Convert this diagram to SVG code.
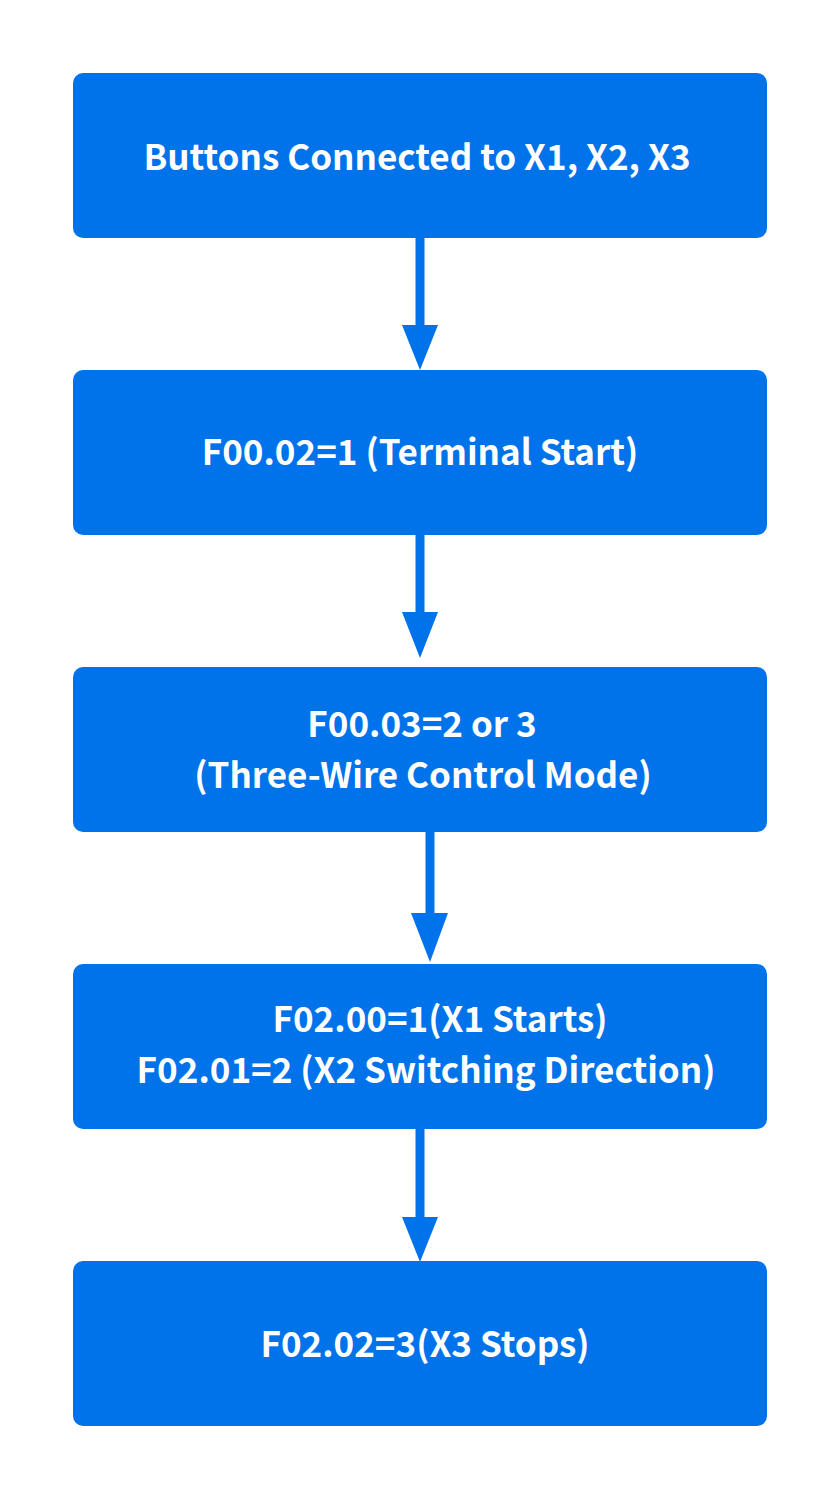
<svg xmlns="http://www.w3.org/2000/svg" width="840" height="1500" viewBox="0 0 840 1500">
<style>
.box{fill:#0073EA}
.t{font-family:"Noto Sans CJK SC","Noto Sans",sans-serif;font-weight:700;font-size:35px;fill:#fff;text-anchor:middle}
.ar{fill:#0073EA}
</style>
<rect width="840" height="1500" fill="#fff"/>
<g id="connectors">
<g class="ar"><rect x="415.5" y="238" width="9" height="90"/><polygon points="402,325 438,325 420,370"/></g>
<g class="ar"><rect x="415.5" y="535" width="9" height="80"/><polygon points="402,612 438,612 420,658"/></g>
<g class="ar"><rect x="425.5" y="832" width="9" height="84"/><polygon points="411,913 448,913 430,962"/></g>
<g class="ar"><rect x="415.5" y="1129" width="9" height="91"/><polygon points="402,1217 438,1217 420,1262"/></g>
</g>
<g id="n1"><rect class="box" x="73" y="73" width="694" height="165" rx="10"/><text class="t" x="417" y="170">Buttons Connected to X1, X2, X3</text></g>
<g id="n2"><rect class="box" x="73" y="370" width="694" height="165" rx="10"/><text class="t" x="420" y="465">F00.02=1 (Terminal Start)</text></g>
<g id="n3"><rect class="box" x="73" y="667" width="694" height="165" rx="10"/><text class="t" x="422" y="737">F00.03=2 or 3</text><text class="t" x="423" y="788">(Three-Wire Control Mode)</text></g>
<g id="n4"><rect class="box" x="73" y="964" width="694" height="165" rx="10"/><text class="t" x="440" y="1032">F02.00=1(X1 Starts)</text><text class="t" x="426" y="1083">F02.01=2 (X2 Switching Direction)</text></g>
<g id="n5"><rect class="box" x="73" y="1261" width="694" height="165" rx="10"/><text class="t" x="425" y="1357">F02.02=3(X3 Stops)</text></g>
</svg>
